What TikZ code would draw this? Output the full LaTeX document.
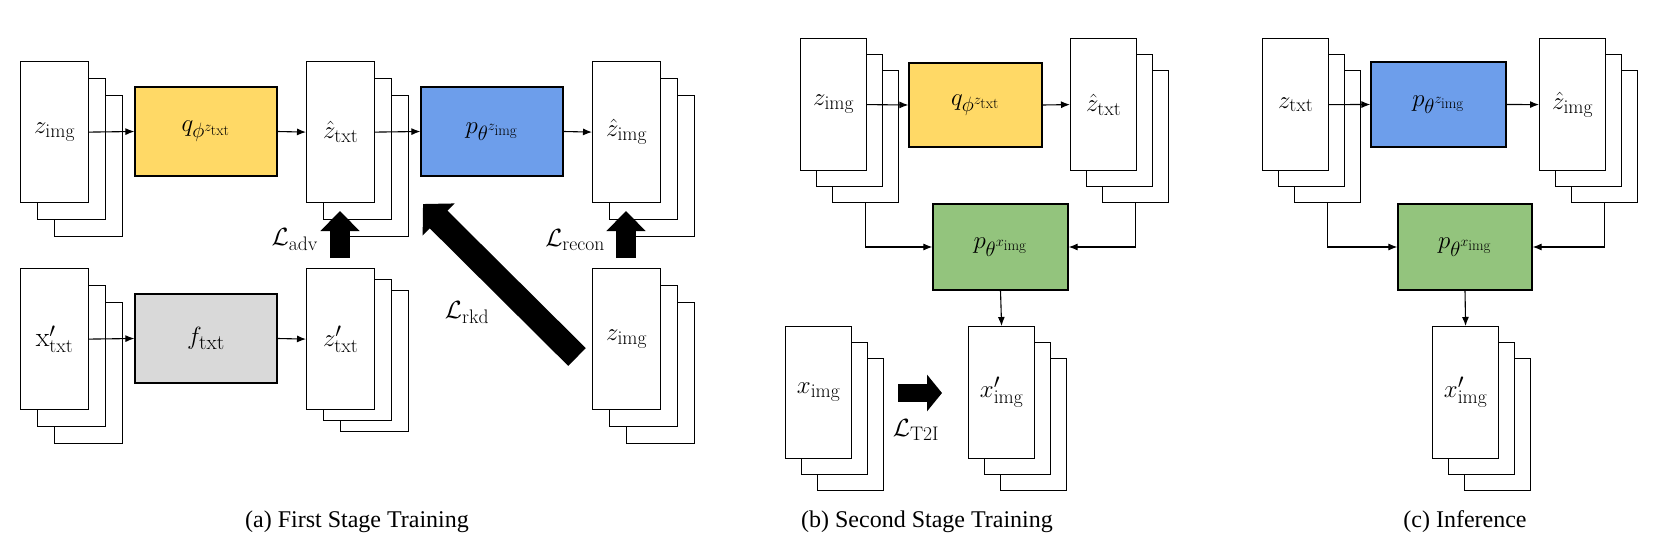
\documentclass[tikz,border=0pt]{standalone}
\usepackage{fontspec}
\newfontfamily\capfont{Liberation Serif}
\usetikzlibrary{arrows.meta}
\definecolor{cy}{RGB}{255,217,102}
\definecolor{cb}{RGB}{109,158,235}
\definecolor{cg}{RGB}{147,196,125}
\definecolor{cgr}{RGB}{217,217,217}
\tikzset{
  pg/.style={draw,fill=white,line width=1.2pt,inner sep=0pt,anchor=north west},
  box/.style={draw,line width=1.2pt,inner sep=0pt,font=\fontsize{30}{36}\selectfont},
  conn/.style={line width=1.1pt,-{Latex[length=9pt,width=7pt]}},
  lab/.style={font=\fontsize{28}{34}\selectfont,inner sep=0pt},
  big/.style={line width=#1,-{Triangle[length=20pt,width=38pt]}},
  captxt/.style={font=\capfont\fontsize{24}{28}\selectfont}
}
% name x y w h dx dy label
\newcommand\mystack[8]{%
  \node[pg,minimum width=#4pt,minimum height=#5pt] (#1-3) at ({#2+2*#6},{#3+2*#7}) {};
  \node[pg,minimum width=#4pt,minimum height=#5pt] (#1-2) at ({#2+#6},{#3+#7}) {};
  \node[pg,minimum width=#4pt,minimum height=#5pt,font=\fontsize{28}{34}\selectfont] (#1) at (#2,#3) {#8};
}
\begin{document}
\begin{tikzpicture}[x=1pt,y=-1pt]
\useasboundingbox (0,0) rectangle (1666,538);
% ---------- (a)
\mystack{a1}{20}{61}{68}{141}{17}{17}{$z_{\mathrm{img}}$}
\mystack{a2}{306}{61}{68}{141}{17}{17}{$\hat z_{\mathrm{txt}}$}
\mystack{a3}{592}{61}{68}{141}{17}{17}{$\hat z_{\mathrm{img}}$}
\mystack{a4}{20}{268}{68}{141}{17}{17}{$\mathrm{x}'_{\mathrm{txt}}$}
\mystack{a5}{306}{268}{68}{141}{17}{11}{$z'_{\mathrm{txt}}$}
\mystack{a6}{592}{268}{68}{141}{17}{17}{$z_{\mathrm{img}}$}
\node[box,fill=cy,minimum width=142pt,minimum height=89pt] (qa) at (206,131.5) {$q_{\phi^{z_{\mathrm{txt}}}}$};
\node[box,fill=cb,minimum width=142pt,minimum height=89pt] (pa) at (492,131.5) {$p_{\theta^{z_{\mathrm{img}}}}$};
\node[box,fill=cgr,minimum width=142pt,minimum height=89pt] (fa) at (206,338.5) {$f_{\mathrm{txt}}$};
\draw[conn] (a1.east) -- (qa.west);
\draw[conn] (qa.east) -- (a2.west);
\draw[conn] (a2.east) -- (pa.west);
\draw[conn] (pa.east) -- (a3.west);
\draw[conn] (a4.east) -- (fa.west);
\draw[conn] (fa.east) -- (a5.west);
\coordinate (adv1) at (340,258); \coordinate (adv2) at (340,211);
\draw[big=20pt] (adv1) -- (adv2);
\coordinate (rec1) at (626,258); \coordinate (rec2) at (626,211);
\draw[big=20pt] (rec1) -- (rec2);
\coordinate (rk1) at (577,357); \coordinate (rk2) at (423,204);
\draw[line width=25pt,-{Triangle[length=22pt,width=44pt]}] (rk1) -- (rk2);
\node[lab,anchor=east] (ladv) at (318,240) {$\mathcal{L}_{\mathrm{adv}}$};
\node[lab,anchor=east] (lrec) at (605,240) {$\mathcal{L}_{\mathrm{recon}}$};
\node[lab] (lrkd) at (467,313) {$\mathcal{L}_{\mathrm{rkd}}$};
\node[captxt] (capa) at (357,522) {(a) First Stage Training};
% ---------- (b)
\mystack{b1}{800}{38}{66}{132}{16}{16}{$z_{\mathrm{img}}$}
\mystack{b2}{1070}{38}{66}{132}{16}{16}{$\hat z_{\mathrm{txt}}$}
\mystack{b3}{785}{326}{66}{132}{16}{16}{$x_{\mathrm{img}}$}
\mystack{b4}{968}{326}{66}{132}{16}{16}{$x'_{\mathrm{img}}$}
\node[box,fill=cy,minimum width=133pt,minimum height=84pt] (qb) at (975.5,105) {$q_{\phi^{z_{\mathrm{txt}}}}$};
\node[box,fill=cg,minimum width=135pt,minimum height=86pt] (gb) at (1000.5,247) {$p_{\theta^{x_{\mathrm{img}}}}$};
\draw[conn] (b1.east) -- (qb.west);
\draw[conn] (qb.east) -- (b2.west);
\draw[conn] (b1-3.south) |- (gb.west);
\draw[conn] (b2-3.south) |- (gb.east);
\draw[conn] (gb.south) -- (b4.north);
\coordinate (t1) at (898,393); \coordinate (t2) at (942,393);
\draw[line width=18pt,-{Triangle[length=15pt,width=36pt]}] (t1) -- (t2);
\node[lab] (lt2i) at (916,430) {$\mathcal{L}_{\mathrm{T2I}}$};
\node[captxt] (capb) at (927,522) {(b) Second Stage Training};
% ---------- (c)
\mystack{c1}{1262}{38}{66}{132}{16}{16}{$z_{\mathrm{txt}}$}
\mystack{c2}{1539}{38}{66}{132}{16}{16}{$\hat z_{\mathrm{img}}$}
\mystack{c3}{1432}{326}{66}{132}{16}{16}{$x'_{\mathrm{img}}$}
\node[box,fill=cb,minimum width=135pt,minimum height=85pt] (pc) at (1438.5,104.5) {$p_{\theta^{z_{\mathrm{img}}}}$};
\node[box,fill=cg,minimum width=134pt,minimum height=86pt] (gc) at (1465,247) {$p_{\theta^{x_{\mathrm{img}}}}$};
\draw[conn] (c1.east) -- (pc.west);
\draw[conn] (pc.east) -- (c2.west);
\draw[conn] (c1-3.south) |- (gc.west);
\draw[conn] (c2-3.south) |- (gc.east);
\draw[conn] (gc.south) -- (c3.north);
\node[captxt] (capc) at (1465,522) {(c) Inference};
\end{tikzpicture}
\end{document}
